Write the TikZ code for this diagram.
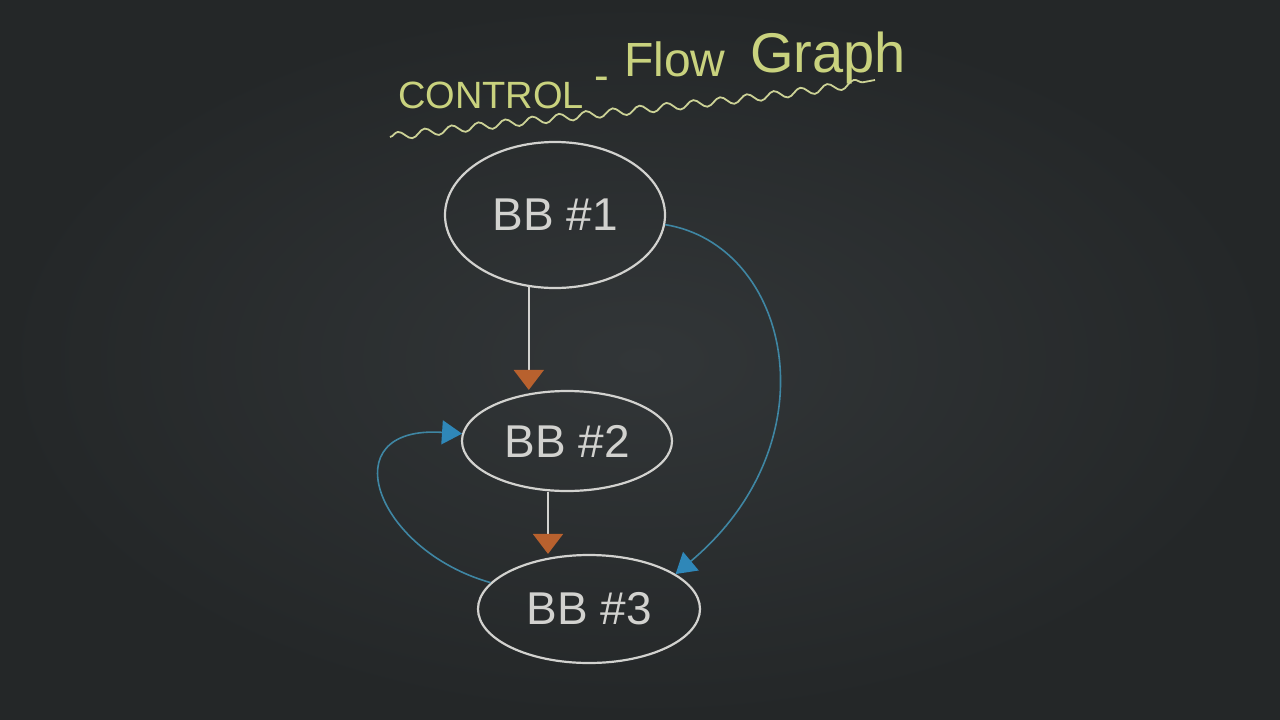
\documentclass[tikz,border=0pt]{standalone}
\usepackage{fontspec}
\setmainfont{Liberation Sans}
\usetikzlibrary{shapes.geometric,arrows.meta,decorations.pathmorphing}
\definecolor{boardin}{HTML}{323638}
\definecolor{boardout}{HTML}{242728}
\definecolor{chalk}{HTML}{D2D2CF}
\definecolor{chalkyel}{HTML}{C9D27E}
\definecolor{chalkblue}{HTML}{3F86A3}
\definecolor{tipblue}{HTML}{2F87B8}
\definecolor{tiporange}{HTML}{B8612E}
\tikzset{
  bbox/.style={ellipse, draw=chalk, line width=2.2pt, text=chalk,
    font=\fontsize{46}{50}\selectfont, inner sep=0pt},
  whitearrow/.style={draw=chalk, line width=2pt,
    -{Triangle[width=30pt,length=20pt,color=tiporange]}},
  bluearrow/.style={draw=chalkblue, line width=1.6pt,
    -{Triangle[width=24pt,length=20pt,color=tipblue]}},
  titletext/.style={text=chalkyel, anchor=base west, inner sep=0pt}
}
\begin{document}
\begin{tikzpicture}[x=1pt,y=-1pt]
\useasboundingbox (0,0) rectangle (1280,720);
\shade[inner color=boardin, outer color=boardout] (0,0) rectangle (1280,720);

% title
\node[titletext, font=\fontsize{38}{40}\selectfont] (t1) at (398,108) {CONTROL};
\node[titletext, font=\fontsize{44}{46}\selectfont] (t1b) at (594,90) {-};
\node[titletext, font=\fontsize{48}{52}\selectfont] (t2) at (624,76) {Flow};
\node[titletext, font=\fontsize{56}{60}\selectfont] (t3) at (750,72) {Graph};
\draw[chalkyel!70!chalk, line width=1.8pt, decorate,
  decoration={snake, segment length=27pt, amplitude=4pt}]
  (390,137) .. controls (560,115) and (760,102) .. (875,80);

% basic blocks
\node[bbox, minimum width=220pt, minimum height=146pt] (bb1) at (555,215) {BB \#1};
\node[bbox, minimum width=210pt, minimum height=100pt] (bb2) at (567,441) {BB \#2};
\node[bbox, minimum width=222pt, minimum height=108pt] (bb3) at (589,609) {BB \#3};

\coordinate (x2) at (548,0);

% edges
\draw[whitearrow] (bb1.-110) -- (bb1.-110 |- bb2.north);
\draw[whitearrow] (bb2.south -| x2) -- (bb3.north -| x2);
\draw[bluearrow] (bb1.-5) .. controls (790,245) and (835,440) .. (bb3.22);
\draw[bluearrow] (bb3.165) .. controls (375,550) and (330,425) .. (bb2.176);
\end{tikzpicture}
\end{document}
